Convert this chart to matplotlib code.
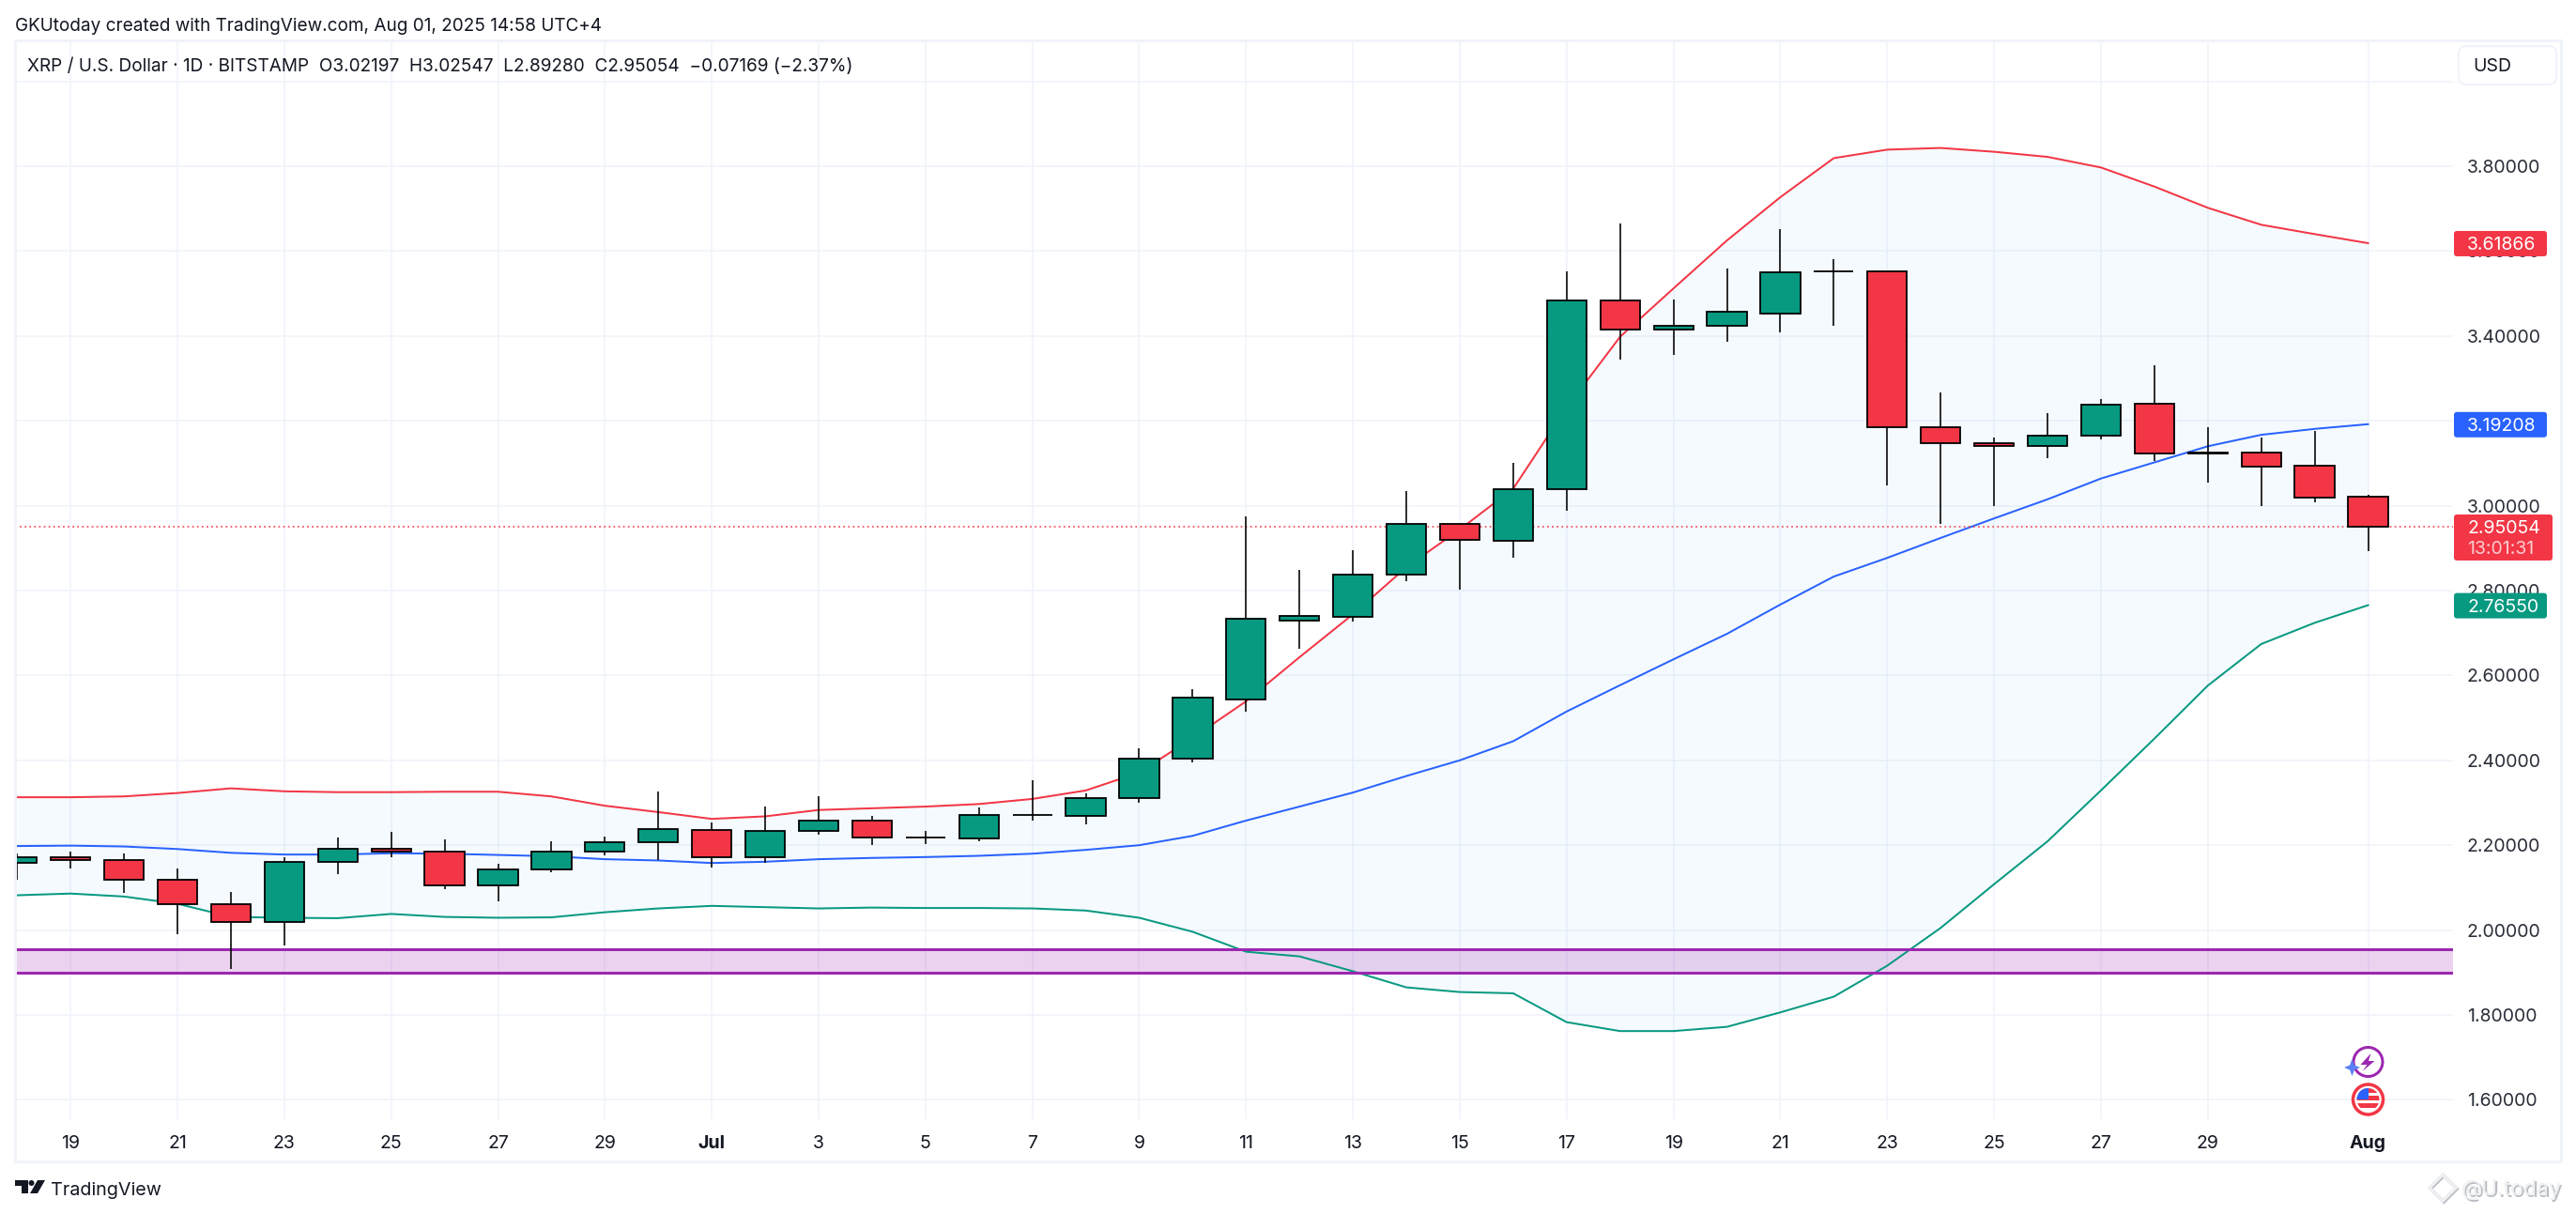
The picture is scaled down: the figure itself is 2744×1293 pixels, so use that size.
import matplotlib
matplotlib.use("Agg")
import matplotlib.pyplot as plt
import numpy as np
from matplotlib.patches import Circle, FancyBboxPatch, Polygon, Rectangle

plt.rcParams['font.family'] = ['Inter', 'DejaVu Sans']

W, H = 2744, 1293
# pane edges in pixels
LEFT, RIGHT, TOP, BOTTOM = 16, 2613, 43, 1192

# Jun 18 .. Aug 1, one value per day
opens = [2.158, 2.171, 2.164, 2.118, 2.062, 2.018, 2.160, 2.191, 2.186, 2.105, 2.142, 2.184, 2.206, 2.235, 2.171,
         2.233, 2.257, 2.219, 2.217, 2.271, 2.268, 2.310, 2.403, 2.544, 2.730, 2.739, 2.837, 2.956, 2.917, 3.038,
         3.483, 3.414, 3.424, 3.452, 3.552, 3.552, 3.184, 3.147, 3.140, 3.164, 3.240, 3.123, 3.126, 3.094, 3.02197]
highs = [2.181, 2.185, 2.181, 2.145, 2.090, 2.171, 2.218, 2.231, 2.214, 2.156, 2.209, 2.220, 2.327, 2.253, 2.291,
         2.315, 2.270, 2.234, 2.289, 2.353, 2.322, 2.429, 2.568, 2.974, 2.848, 2.895, 3.034, 2.956, 3.101, 3.553,
         3.665, 3.485, 3.559, 3.652, 3.581, 3.552, 3.267, 3.161, 3.218, 3.251, 3.331, 3.185, 3.161, 3.177, 3.02547]
lows = [2.119, 2.146, 2.088, 1.991, 1.909, 1.964, 2.132, 2.172, 2.097, 2.068, 2.137, 2.177, 2.165, 2.148, 2.159,
        2.225, 2.200, 2.203, 2.210, 2.257, 2.250, 2.299, 2.396, 2.514, 2.662, 2.726, 2.822, 2.803, 2.878, 2.989,
        3.345, 3.356, 3.387, 3.409, 3.424, 3.047, 2.957, 3.000, 3.111, 3.157, 3.105, 3.054, 3.000, 3.008, 2.89280]
closes = [2.171, 2.164, 2.118, 2.062, 2.018, 2.160, 2.191, 2.186, 2.105, 2.142, 2.186, 2.206, 2.237, 2.171, 2.233,
          2.257, 2.219, 2.218, 2.271, 2.272, 2.310, 2.403, 2.547, 2.733, 2.740, 2.837, 2.958, 2.919, 3.038, 3.483,
          3.414, 3.423, 3.456, 3.549, 3.552, 3.184, 3.147, 3.141, 3.164, 3.237, 3.123, 3.126, 3.093, 3.020, 2.95054]

upper = [2.313, 2.313, 2.315, 2.323, 2.334, 2.327, 2.325, 2.325, 2.326, 2.326, 2.315, 2.293, 2.278, 2.262, 2.268,
         2.283, 2.287, 2.291, 2.297, 2.309, 2.329, 2.371, 2.453, 2.539, 2.643, 2.744, 2.855, 2.944, 3.040, 3.231,
         3.398, 3.512, 3.625, 3.727, 3.819, 3.839, 3.843, 3.834, 3.822, 3.797, 3.752, 3.702, 3.662, 3.640, 3.61866]
basis = [2.198, 2.199, 2.197, 2.191, 2.182, 2.178, 2.178, 2.181, 2.180, 2.177, 2.174, 2.167, 2.164, 2.158, 2.161,
         2.167, 2.170, 2.172, 2.175, 2.180, 2.189, 2.200, 2.222, 2.258, 2.291, 2.324, 2.363, 2.400, 2.445, 2.515,
         2.577, 2.638, 2.698, 2.767, 2.833, 2.877, 2.924, 2.970, 3.015, 3.064, 3.102, 3.140, 3.167, 3.181, 3.19208]
lower = [2.082, 2.086, 2.079, 2.062, 2.031, 2.029, 2.028, 2.038, 2.031, 2.029, 2.030, 2.042, 2.051, 2.057, 2.054,
         2.051, 2.053, 2.052, 2.052, 2.051, 2.046, 2.029, 1.996, 1.949, 1.938, 1.903, 1.865, 1.854, 1.851, 1.783,
         1.762, 1.762, 1.772, 1.806, 1.843, 1.916, 2.005, 2.108, 2.209, 2.329, 2.451, 2.576, 2.674, 2.724, 2.7655]

band_top = 1.954
band_bottom = 1.899

x_ticks = [1, 3, 5, 7, 9, 11, 13, 15, 17, 19, 21, 23, 25, 27, 29, 31, 33, 35, 37, 39, 41, 44]
x_labels = ['19', '21', '23', '25', '27', '29', 'Jul', '3', '5', '7', '9', '11', '13', '15', '17', '19', '21',
            '23', '25', '27', '29', 'Aug']
y_ticks = [1.6, 1.8, 2.0, 2.2, 2.4, 2.6, 2.8, 3.0, 3.2, 3.4, 3.6, 3.8, 4.0]

RED = '#f23645'
GREEN = '#089981'
BLUE = '#2962ff'
PURPLE = '#9c27b0'
GRID = '#f0f3fa'
TEXT = '#131722'
PX = 0.72  # points per pixel at dpi 100

fig = plt.figure(figsize=(W / 100, H / 100), dpi=100, facecolor='white')
ax = fig.add_axes([LEFT / W, 1 - BOTTOM / H, (RIGHT - LEFT) / W, (BOTTOM - TOP) / H])
ax.set_facecolor('white')
for s in ax.spines.values():
    s.set_visible(False)

x = np.arange(len(closes))
ax.set_xlim(-0.04, 45.59)
ax.set_ylim(1.5544, 4.0965)

ax.set_axisbelow(True)
ax.grid(True, color=GRID, lw=1.1)

ax.fill_between(x, lower, upper, color='#2196f3', alpha=0.045, lw=0, zorder=1)
ax.axhspan(band_bottom, band_top, color=PURPLE, alpha=0.2, lw=0, zorder=1.2)

ax.plot(x, upper, color=RED, lw=2 * PX, zorder=2)
ax.plot(x, basis, color=BLUE, lw=2 * PX, zorder=2)
ax.plot(x, lower, color=GREEN, lw=2 * PX, zorder=2)

ax.axhline(band_top, color=PURPLE, lw=3 * PX, zorder=2.2)
ax.axhline(band_bottom, color=PURPLE, lw=3 * PX, zorder=2.2)
ax.axhline(closes[-1], color=RED, lw=1.5 * PX, ls=(0, (1.2, 2.2)), zorder=2.3)

# candles
o = np.array(opens)
c = np.array(closes)
colors = [GREEN if b >= a else RED for a, b in zip(opens, closes)]
ax.vlines(x, lows, highs, color='black', lw=1.6 * PX, zorder=3)
ax.bar(x, np.abs(c - o), bottom=np.minimum(o, c), width=0.742, color=colors, edgecolor='black',
       linewidth=1.8 * PX, zorder=3.1)

ax.yaxis.tick_right()
ax.set_xticks(x_ticks)
ax.set_xticklabels(x_labels)
ax.set_yticks(y_ticks)
# the 4.0 line has no label, the currency box sits there
ax.set_yticklabels(['%.5f' % v if v < 4 else '' for v in y_ticks])
ax.tick_params(axis='x', length=0, pad=12.5, labelsize=14, labelcolor=TEXT)
ax.tick_params(axis='y', length=0, pad=10.5, labelsize=14, labelcolor='#2a2e39')
for lab in ax.get_xticklabels():
    if lab.get_text() in ('Jul', 'Aug'):
        lab.set_fontweight('bold')

# overlay in pixel coordinates for the frame, tags, icons and captions
ov = fig.add_axes([0, 0, 1, 1], zorder=5)
ov.set_xlim(0, W)
ov.set_ylim(H, 0)
ov.axis('off')
ov.patch.set_alpha(0)

ov.add_patch(Rectangle((LEFT, TOP), 2728 - LEFT, 1237 - TOP, fc='none', ec=GRID, lw=3 * PX))


def price_px(v):
    return H - ax.transData.transform((0, v))[1]


def price_tag(v, color, label=None, right=2713, up=13, down=14):
    yp = price_px(v)
    ov.add_patch(FancyBboxPatch((2614, yp - up), right - 2614, up + down, boxstyle='round,pad=0,rounding_size=3',
                                fc=color, ec='none'))
    ov.text(2628, yp, '%.5f' % v, color='white', fontsize=14, va='center_baseline', ha='left')
    if label:
        ov.text(2628, yp + 22, label, color='white', alpha=0.75, fontsize=14, va='center_baseline', ha='left')


price_tag(upper[-1], RED)
price_tag(basis[-1], BLUE)
price_tag(lower[-1], GREEN)
price_tag(closes[-1], RED, '13:01:31', right=2719, down=36)

# currency box
ov.add_patch(FancyBboxPatch((2619, 49), 104, 41, boxstyle='round,pad=0,rounding_size=8', fc='white', ec=GRID, lw=1.5))
ov.text(2634, 69.5, 'USD', color=TEXT, fontsize=14, va='center_baseline', ha='left')

# captions
ov.text(16, 26, 'GKUtoday created with TradingView.com, Aug 01, 2025 14:58 UTC+4', color=TEXT, fontsize=13.67,
        va='center_baseline', ha='left')
ov.text(29, 69, 'XRP / U.S. Dollar \u00b7 1D \u00b7 BITSTAMP  O3.02197  H3.02547  L2.89280  C2.95054  \u22120.07169 (\u22122.37%)',
        color=TEXT, fontsize=13.7, va='center_baseline', ha='left')

# TradingView logo
ov.add_patch(Polygon([(16, 1257), (30, 1257), (30, 1271), (23, 1271), (23, 1263), (16, 1263)], fc=TEXT, ec='none'))
ov.add_patch(Circle((33.5, 1260), 3, fc=TEXT, ec='none'))
ov.add_patch(Polygon([(40, 1257), (48, 1257), (40, 1271), (32, 1271)], fc=TEXT, ec='none'))
ov.text(54, 1266, 'TradingView', color=TEXT, fontsize=14.2, va='center_baseline', ha='left')

# event markers on the last bar
cx = 2522.5
ov.add_patch(Circle((cx, 1131), 15.5, fc='white', ec=PURPLE, lw=3 * PX))
ov.add_patch(Polygon([(cx + 3, 1122), (cx - 8, 1134), (cx - 1, 1134), (cx - 6, 1141), (cx + 7, 1130), (cx + 0.5, 1130)],
                     fc=PURPLE, ec='none'))
ov.add_patch(Polygon([(2505.5, 1128), (2508, 1134.5), (2514, 1137), (2508, 1139.5), (2505.5, 1146), (2503, 1139.5),
                      (2497, 1137), (2503, 1134.5)], fc='#5b80f5', ec='none'))
ov.add_patch(Circle((cx, 1171), 16, fc='white', ec=RED, lw=3.5 * PX))
flag_clip = Circle((cx, 1171), 12, transform=ov.transData)
for yy in (1159, 1167, 1175, 1183):
    r = ov.add_patch(Rectangle((cx - 14, yy), 28, 4.5, fc=RED, ec='none'))
    r.set_clip_path(flag_clip)
r = ov.add_patch(Rectangle((cx - 14, 1158), 14, 13, fc=BLUE, ec='none'))
r.set_clip_path(flag_clip)

# watermark
for off, col in ((1.2, '#b8bcc2'), (0, '#eef0f2')):
    ov.text(2622 + off, 1265 + off, '@U.today', color=col, fontsize=16.5, va='center_baseline', ha='left')
for off, col in ((1.2, '#b8bcc2'), (0, '#eef0f2')):
    ov.add_patch(Polygon([(2602 + off, 1251 + off), (2616 + off, 1265 + off), (2602 + off, 1279 + off),
                          (2588 + off, 1265 + off)], fc='none', ec=col, lw=2.5))

fig.savefig('out.png', dpi=100, facecolor='white')
